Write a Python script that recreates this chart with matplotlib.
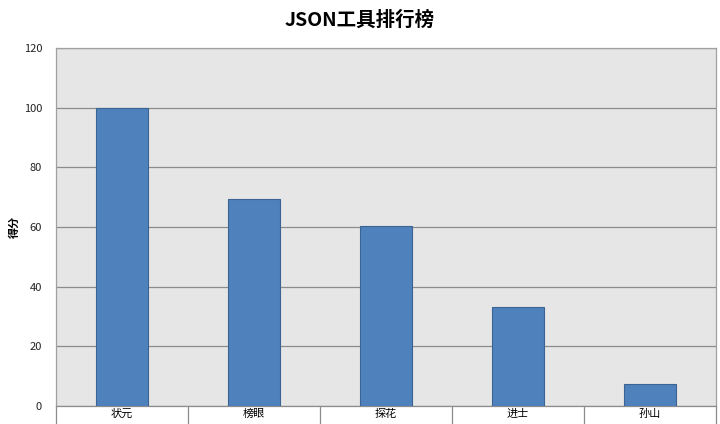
import matplotlib
matplotlib.use("Agg")
import matplotlib.pyplot as plt
import numpy as np

plt.rcParams['font.family'] = ['Noto Sans CJK SC', 'DejaVu Sans']

categories = ['状元', '榜眼', '探花', '进士', '孙山']
scores = [100, 69.4, 60.4, 33.3, 7.4]
yticks = [0, 20, 40, 60, 80, 100, 120]

fig = plt.figure(figsize=(7.2, 4.24), dpi=100)
ax = fig.add_axes([56/720, 18/424, 660/720, 358/424])
ax.set_facecolor('#e6e6e6')

x = np.arange(len(categories))
ax.bar(x, scores, width=0.4, color='#4f81bd', edgecolor='#3a6491', linewidth=0.8, zorder=3)

ax.set_xlim(-0.5, len(categories) - 0.5)
ax.set_ylim(0, 120)
ax.set_yticks(yticks)
ax.set_yticklabels([str(v) for v in yticks], fontsize=8, color='#222222')
ax.tick_params(axis='y', length=0, pad=10)
ax.yaxis.grid(True, color='#8c8c8c', linewidth=0.9, zorder=1)
ax.set_axisbelow(True)

ax.set_xticks(x)
ax.set_xticklabels(categories, fontsize=8)
ax.tick_params(axis='x', which='major', length=0, pad=2)
ax.set_xticks(np.arange(-0.5, len(categories)), minor=True)
ax.tick_params(axis='x', which='minor', length=18, color='#8c8c8c', width=0.9)

for s in ['top', 'left', 'right']:
    ax.spines[s].set_color('#a0a0a0')
    ax.spines[s].set_linewidth(0.9)
ax.spines['bottom'].set_color('#8c8c8c')
ax.spines['bottom'].set_linewidth(0.9)

fig.text(14/720, 1 - 227/424, '得分', rotation=90, ha='center', va='center',
         fontsize=8, fontweight='bold')
fig.text(0.5, 1 - 20/424, 'JSON工具排行榜', ha='center', va='center', fontsize=14, fontweight='bold')

fig.savefig('out.png', dpi=100)
